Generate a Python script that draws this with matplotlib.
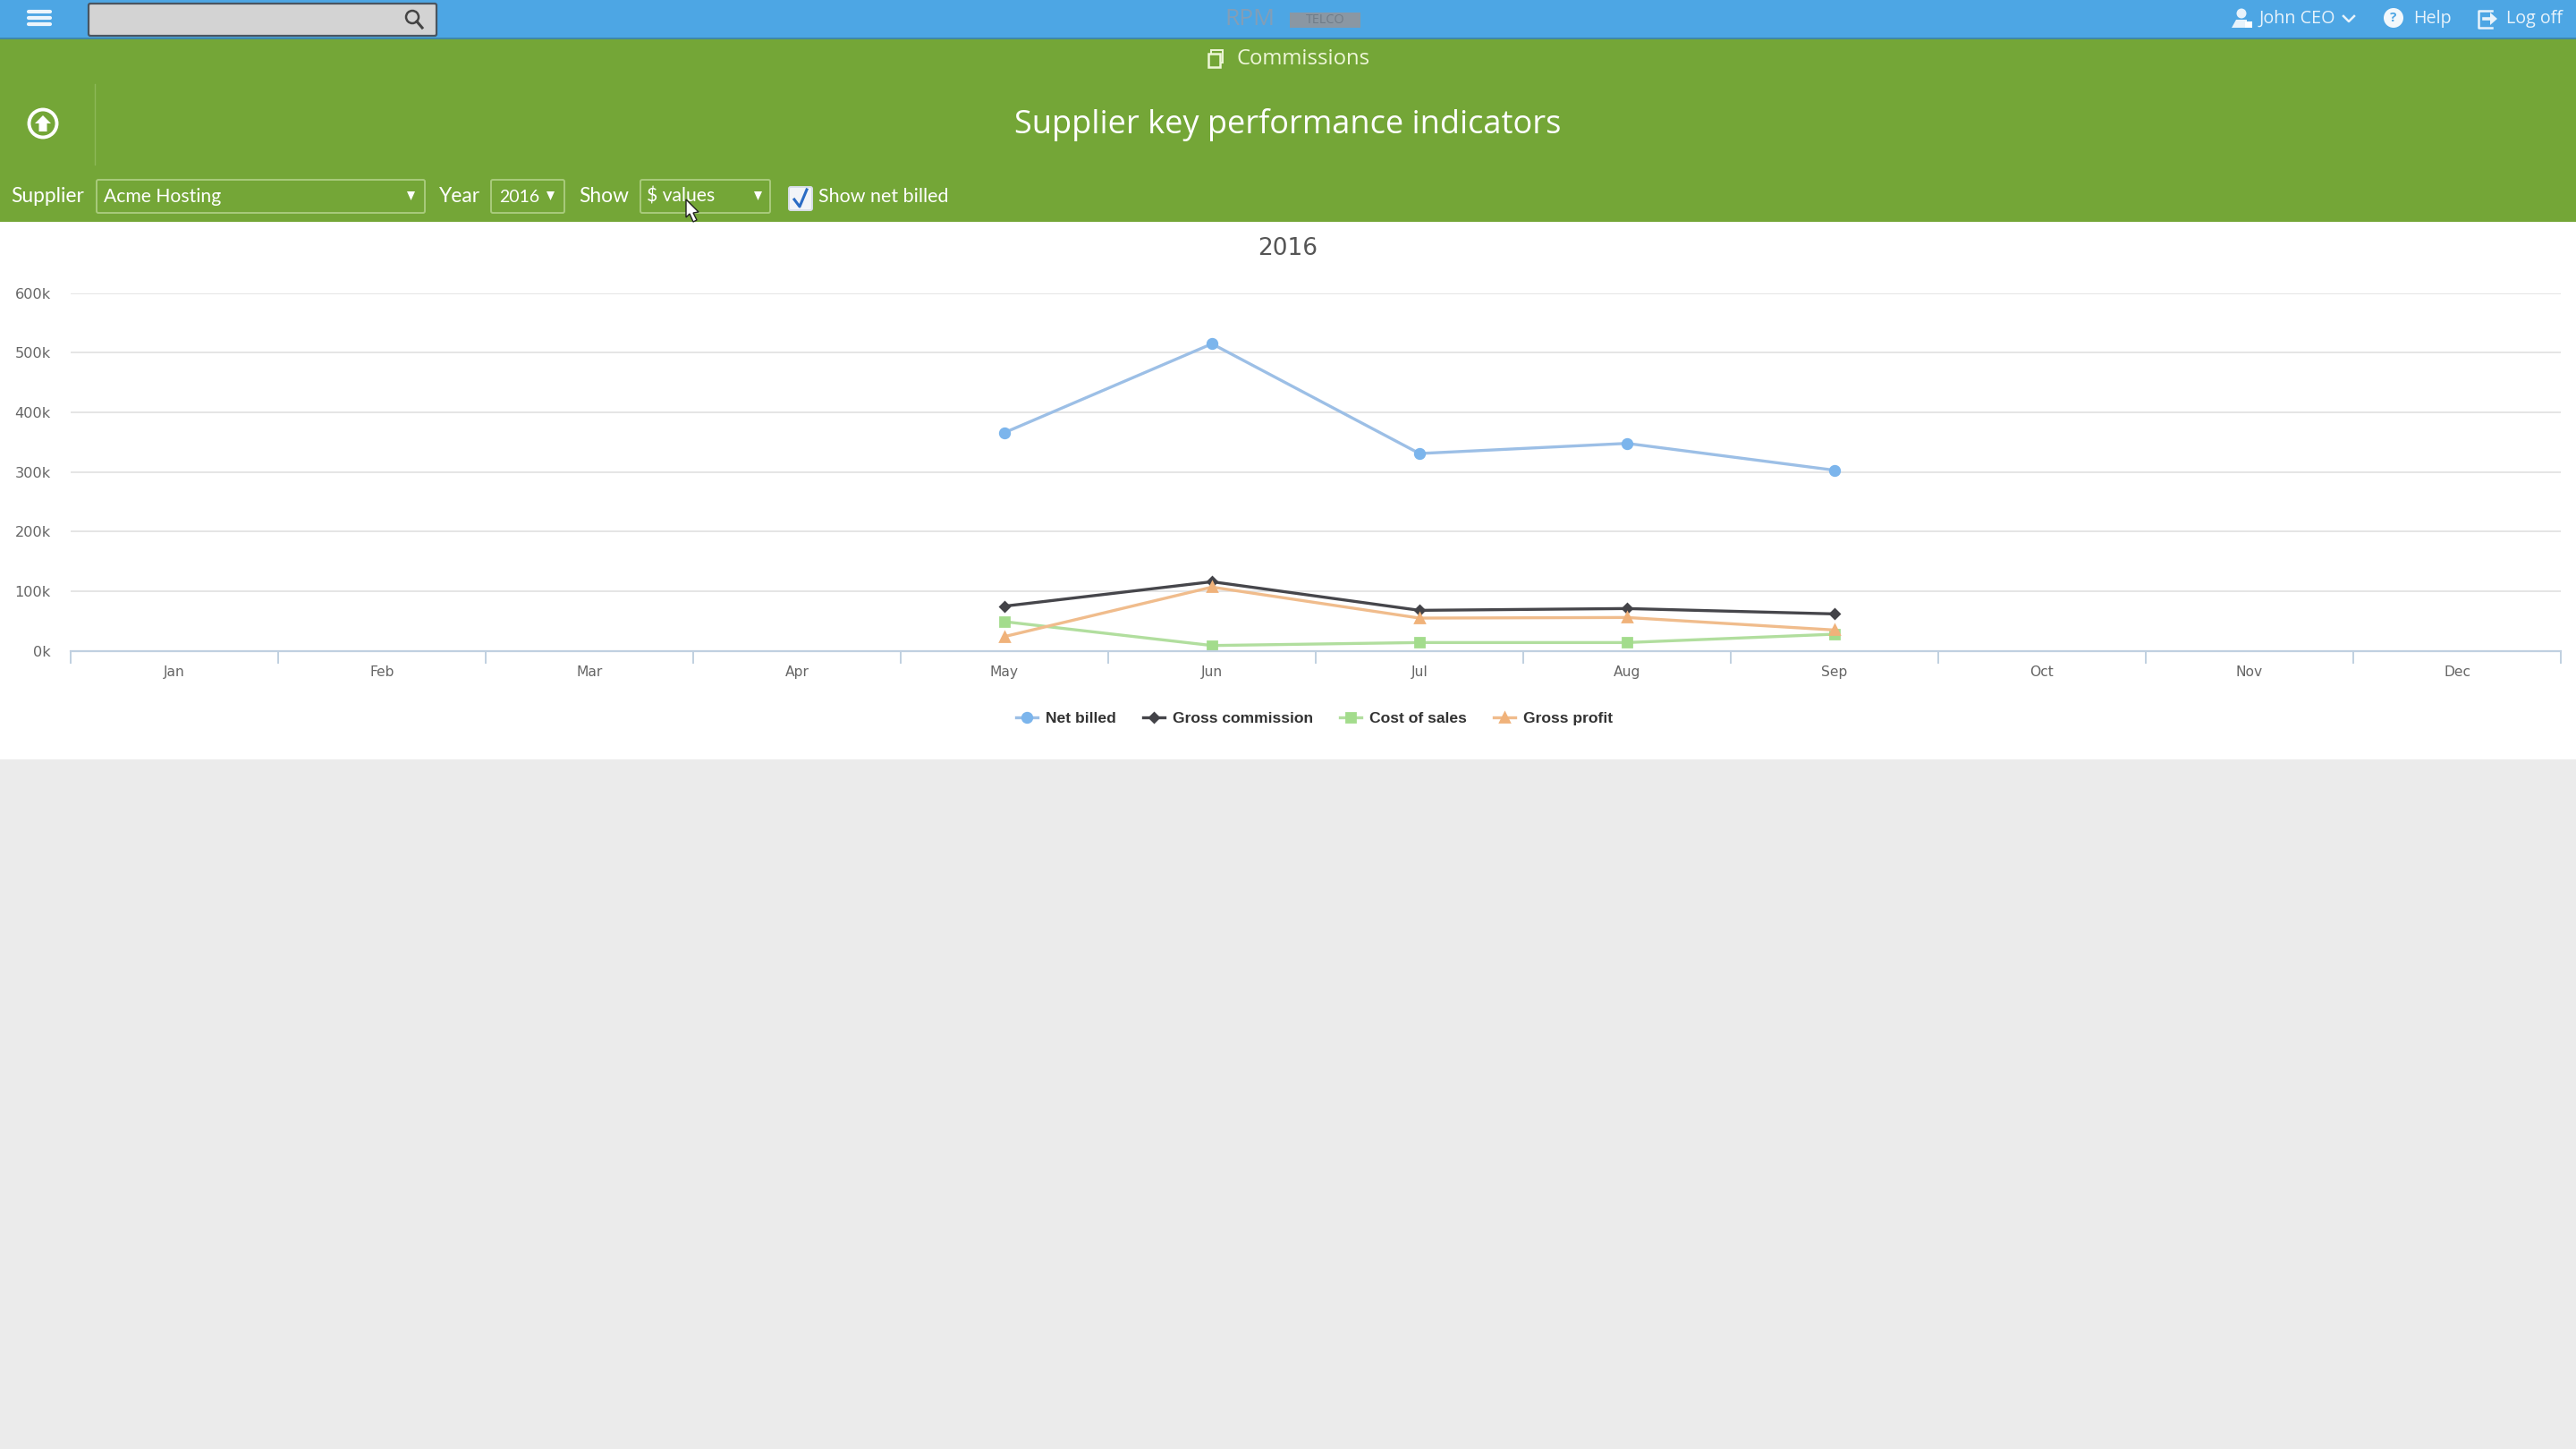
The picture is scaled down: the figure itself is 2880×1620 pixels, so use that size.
import numpy as np
import matplotlib
matplotlib.use('Agg')
import matplotlib.pyplot as plt
from matplotlib.patches import Rectangle, Circle, FancyBboxPatch, Polygon

W, H = 2880, 1620

months = ['Jan', 'Feb', 'Mar', 'Apr', 'May', 'Jun', 'Jul', 'Aug', 'Sep', 'Oct', 'Nov', 'Dec']
nan = np.nan
net_billed = [nan, nan, nan, nan, 366, 515, 331, 348, 303, nan, nan, nan]
gross_commission = [nan, nan, nan, nan, 75, 116, 68, 71, 62, nan, nan, nan]
cost_of_sales = [nan, nan, nan, nan, 49, 9, 14, 14, 28, nan, nan, nan]
gross_profit = [nan, nan, nan, nan, 24, 107, 55, 56, 35, nan, nan, nan]
y_ticks = [0, 100, 200, 300, 400, 500, 600]
y_labels = ['0k', '100k', '200k', '300k', '400k', '500k', '600k']

fig = plt.figure(figsize=(14.4, 8.1), dpi=200)

# page chrome, drawn in pixel coordinates
ui = fig.add_axes([0, 0, 1, 1])
ui.set_xlim(0, W)
ui.set_ylim(H, 0)
ui.axis('off')

ui.add_patch(Rectangle((0, 0), W, H, color='#EBEBEB', lw=0))
ui.add_patch(Rectangle((0, 248), W, 601, color='white', lw=0))
ui.add_patch(Rectangle((0, 44), W, 204, color='#74A637', lw=0))
ui.add_patch(Rectangle((0, 0), W, 43, color='#4DA6E4', lw=0))
ui.add_patch(Rectangle((0, 42), W, 2, color='#3F88A8', lw=0))


def label(x, y, s, size=8.0, ha='left', color='white', font='Lato', **kw):
    # text sits a little low in the page, hence the shift
    ui.text(x, y + 3, s, fontsize=size, ha=ha, va='center', color=color, family=font, **kw)


def box(x0, x1, y0, y1, ec='#A9CB7C', fc='none', lw=0.7):
    ui.add_patch(FancyBboxPatch((x0 + 2, y0 + 2), x1 - x0 - 4, y1 - y0 - 4, boxstyle='round,pad=2',
                                fc=fc, ec=ec, lw=lw))


# hamburger and search box
for y in (13, 20, 27):
    ui.plot([32, 56], [y, y], color='white', lw=1.5, solid_capstyle='round', alpha=0.9)
box(99, 488, 4, 40, ec='#4A5560', fc='#D3D3D3', lw=0.8)
ui.add_patch(Circle((461, 19), 7, fc='none', ec='#444444', lw=0.9))
ui.plot([466, 472], [24, 31], color='#444444', lw=1.1)

# logo, faint in the screenshot
label(1397, 19, 'RPM', size=9.5, ha='center', color='#8C9DB0', font='Open Sans', alpha=0.85)
ui.add_patch(Rectangle((1442, 14), 79, 17, color='#8A97A3', lw=0))
label(1481.5, 19.5, 'TELCO', size=5.2, ha='center', color='#6F7C88', font='Open Sans')

# right side of the top bar
ui.add_patch(Circle((2506, 15), 5.5, color='#E8F3FB', lw=0))
ui.add_patch(Polygon([[2495, 31], [2500, 22], [2512, 22], [2512, 31]], color='#E8F3FB', lw=0))
ui.add_patch(Rectangle((2510, 24), 8, 7, color='white', lw=0))
label(2526, 18, 'John CEO', size=7.1, color='#E8F3FB', font='Open Sans')
ui.plot([2620, 2626, 2632], [18, 24, 18], color='#E8F3FB', lw=0.9)
ui.add_patch(Circle((2676, 20), 11, color='#F2F8FC', lw=0))
ui.text(2676, 20.5, '?', fontsize=5.5, ha='center', va='center', color='#4DA6E4', weight='bold', family='Open Sans')
label(2698, 18, 'Help', size=7.1, color='#E8F3FB', font='Open Sans')
ui.plot([2786, 2771, 2771, 2786], [12, 12, 31, 31], color='#E8F3FB', lw=0.9)
ui.plot([2777, 2785], [21, 21], color='#E8F3FB', lw=1.3)
ui.add_patch(Polygon([[2784, 14], [2792, 21], [2784, 28]], color='#E8F3FB', lw=0))
label(2802, 18, 'Log off', size=7.1, color='#E8F3FB', font='Open Sans')

# green header
ui.add_patch(Rectangle((1354, 56), 13, 14, fc='none', ec='#EEF6D8', lw=0.7))
ui.add_patch(Rectangle((1351, 60), 13, 15, fc='#74A637', ec='#EEF6D8', lw=0.9))
label(1457, 63, 'Commissions', size=8.6, ha='center', font='Open Sans', color='#EEF6D8')
label(1440, 137, 'Supplier key performance indicators', size=13.0, ha='center', font='Open Sans')
ui.add_patch(Circle((48, 138), 15.5, fc='none', ec='white', lw=1.4))
ui.add_patch(Polygon([[39, 138], [48, 129], [57, 138], [52.5, 138], [52.5, 147], [43.5, 147], [43.5, 138]],
                     color='white', lw=0))
ui.plot([106, 106], [94, 184], color='#8DB858', lw=0.5)

# filter row
label(12, 217, 'Supplier', size=8.2)
box(108, 475, 201, 238)
label(116, 217, 'Acme Hosting', size=7.6)
ui.add_patch(Polygon([[455, 214], [464, 214], [459.5, 224]], color='white', lw=0))
label(491, 217, 'Year', size=8.2)
box(549, 631, 201, 238)
label(558, 217, '2016', size=7.0)
ui.add_patch(Polygon([[611, 214], [620, 214], [615.5, 224]], color='white', lw=0))
label(647, 217, 'Show', size=8.2)
box(716, 861, 201, 238)
label(723, 217, '$ values', size=7.6)
ui.add_patch(Polygon([[843, 214], [852, 214], [847.5, 224]], color='white', lw=0))
box(882, 908, 209, 235, ec='#D8DEE8', fc='#F2F4F8')
ui.plot([888, 894, 902], [223, 231, 212], color='#2B6CC4', lw=1.1)
label(915, 217, 'Show net billed', size=7.7)
ui.add_patch(Polygon([[767, 223], [767, 243], [771, 239], [775, 248], [779, 246], [775, 238], [781, 237]],
                     fc='white', ec='#222222', lw=0.5, zorder=5))

ui.text(1440, 278, '2016', fontsize=9.5, ha='center', va='center', color='#555555', family='DejaVu Sans')

# the chart itself
ax = fig.add_axes([79 / W, 1 - 727.7 / H, (2863 - 79) / W, 400 / H])
ax.patch.set_alpha(0)
x = np.arange(len(months)) + 0.5

ax.plot(x, net_billed, color='#9CBFE6', lw=1.2, marker='o', ms=3.8, mfc='#7CB5EC', mec='#7CB5EC', label='Net billed')
ax.plot(x, gross_commission, color='#46464B', lw=1.2, marker='D', ms=2.8, mfc='#434348', mec='#434348', label='Gross commission')
ax.plot(x, cost_of_sales, color='#B1DE9E', lw=1.2, marker='s', ms=3.6, mfc='#A3DC8C', mec='#A3DC8C', label='Cost of sales')
ax.plot(x, gross_profit, color='#F0BC8C', lw=1.2, marker='^', ms=3.8, mfc='#F0B27A', mec='#F0B27A', label='Gross profit')

ax.set_xlim(0, 12)
ax.set_ylim(0, 600)
ax.set_yticks(y_ticks)
ax.set_yticklabels(y_labels, fontsize=5.8, color='#666666')
ax.set_xticks(np.arange(13))
ax.set_xticklabels([])
ax.set_xticks(x, minor=True)
ax.set_xticklabels(months, minor=True, fontsize=5.6, color='#666666')
ax.tick_params(axis='y', length=0, pad=8)
ax.tick_params(axis='x', which='major', length=5, width=0.7, color='#C0D0E0')
ax.tick_params(axis='x', which='minor', length=0, pad=5.8)
ax.grid(axis='y', color='#E0E0E0', lw=0.6)
ax.set_axisbelow(True)
for name in ('top', 'right', 'left'):
    ax.spines[name].set_visible(False)
ax.spines['bottom'].set_color('#C0D0E0')
ax.spines['bottom'].set_linewidth(0.8)

ax.legend(loc='center', bbox_to_anchor=(0.4995, -0.19), ncol=4, frameon=False, handlelength=1.35, handletextpad=0.5,
          columnspacing=1.75, prop={'family': 'Liberation Sans', 'size': 6.3, 'weight': 'bold'}, labelcolor='#333333')

fig.savefig('out.png', dpi=200)
